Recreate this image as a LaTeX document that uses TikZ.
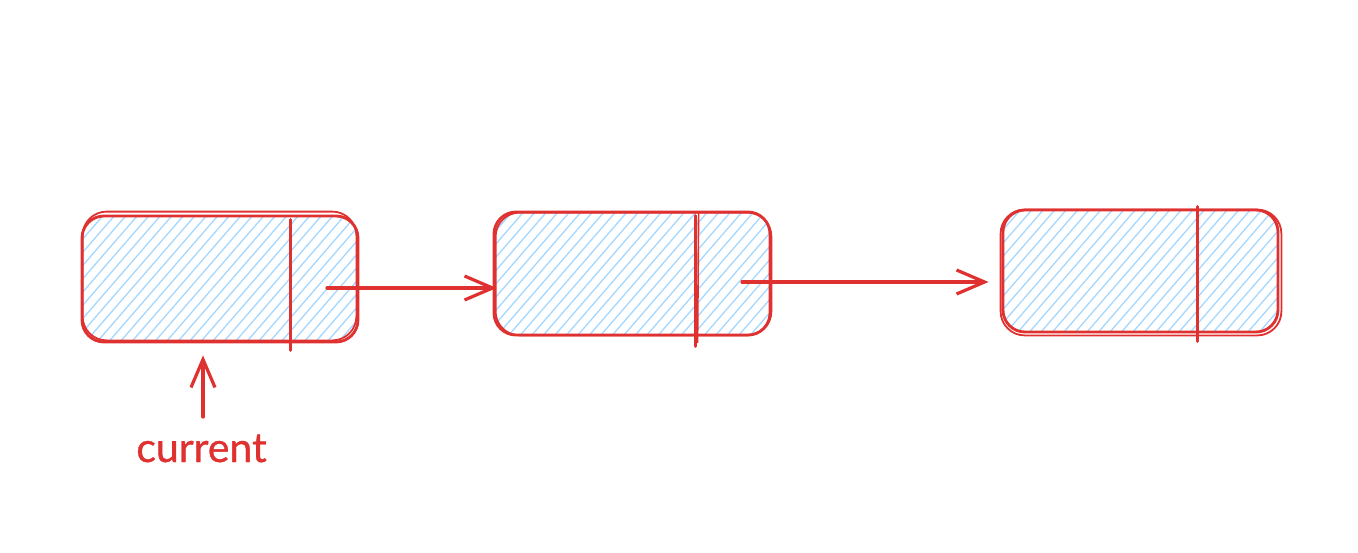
\documentclass[tikz,border=0pt]{standalone}
\usepackage{fontspec}
\setmainfont{Lato}
\newfontfamily\labelfont[FakeBold=0.8]{Lato}
\usetikzlibrary{arrows.meta,calc}
\definecolor{exred}{HTML}{E03131}
\definecolor{exblue}{HTML}{A5D8FF}
\tikzset{
  hatch/.style={path picture={
    \foreach \k in {-12,...,26}{
      \draw[exblue, line width=1.3pt]
        ([xshift=\k*11.5pt,yshift=-4pt]path picture bounding box.south west) -- ++(130pt,150pt);}}},
  nodebox/.style={rectangle, rounded corners=22pt, minimum width=276pt,
    draw=exred, line width=2.8pt, inner sep=0pt, hatch},
  sketch/.style={draw=exred, line width=1.8pt, rounded corners=24pt},
  divider/.style={draw=exred, line width=2.8pt, line cap=round},
  link/.style={draw=exred, line width=3.2pt, line cap=round,
    -{Straight Barb[length=28pt,width=24pt,line width=3.2pt]}},
  label/.style={text=exred, inner sep=0pt, font=\labelfont\fontsize{41}{41}\selectfont}
}
\begin{document}
\begin{tikzpicture}[x=1pt,y=-1pt]
\useasboundingbox[fill=white] (0,0) rectangle (1358,552);

% boxes
\node[nodebox, minimum height=126pt] (b1) at (220,279) {};
\node[nodebox, minimum height=123pt] (b2) at (632,273.5) {};
\node[nodebox, minimum height=122pt, minimum width=275pt] (b3) at (1140.5,271) {};

% second sketchy strokes
\draw[sketch] ($(b1.south west)+(2pt,3pt)$) rectangle ($(b1.north east)+(-3pt,3pt)$);
\draw[sketch] ($(b2.south west)+(3pt,1pt)$) rectangle ($(b2.north east)+(0pt,-2pt)$);
\draw[sketch] ($(b3.south west)+(-1pt,-2pt)$) rectangle ($(b3.north east)+(2pt,-1pt)$);

% dividers
\draw[divider] ([shift={(210pt,-5pt)}]b1.north west) -- ([shift={(210pt,-7pt)}]b1.south west);
\draw[divider] ([shift={(203pt,-5pt)}]b2.north west) -- ([shift={(203pt,-10pt)}]b2.south west);
\draw[divider, line width=1.6pt] ([shift={(206pt,-2pt)}]b2.north west) -- ([shift={(205pt,-6pt)}]b2.south west);
\draw[divider] ([shift={(196pt,2pt)}]b3.north west) -- ([shift={(196pt,-8pt)}]b3.south west);

% links
\coordinate (s1) at (327,288);
\coordinate (s2) at (742,282);
\draw[link] (s1) -- ($(s1 -| b2.west)+(4pt,0)$);
\draw[link] (s2) -- ($(s2 -| b3.west)+(-13pt,0)$);

% current pointer
\node[label, anchor=base] (cur) at (201.5,462) {current};
\coordinate (cs) at (203,417);
\draw[link] (cs) -- ($(cs |- b1.south)+(0,-12pt)$);
\end{tikzpicture}
\end{document}
